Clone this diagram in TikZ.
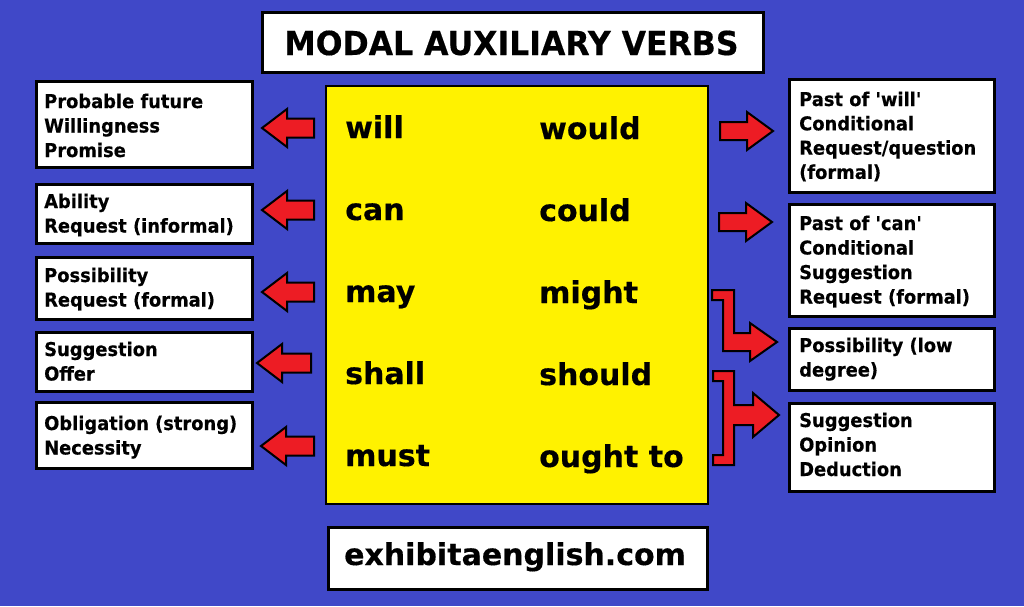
\documentclass[tikz,border=0pt]{standalone}
\usepackage{fontspec}
\newfontfamily\df{DejaVu Sans}[FakeStretch=1.0,FakeBold=0.4]
\newfontfamily\dfs{DejaVu Sans}[FakeStretch=0.94,FakeBold=0.4]
\newfontfamily\dft{DejaVu Sans}[FakeStretch=0.955,FakeBold=0.4]
\definecolor{bg}{RGB}{64,72,200}
\definecolor{ar}{RGB}{237,28,36}
\definecolor{yl}{RGB}{255,242,0}
\tikzset{
  wbox/.style={draw=black, fill=white, line width=2.5pt, anchor=north west, inner sep=0pt},
  ybox/.style={draw=black, fill=yl, line width=2pt, anchor=north west, inner sep=0pt},
  lt/.style={anchor=base west, inner sep=0pt, font=\dfs\bfseries\fontsize{19}{24}\selectfont},
  wd/.style={anchor=base west, inner sep=0pt, font=\df\bfseries\fontsize{30}{36}\selectfont},
  arr/.style={fill=ar, draw=black, line width=2pt, line join=miter},
}
\begin{document}
\begin{tikzpicture}[x=1pt,y=-1pt]
\fill[bg] (0,0) rectangle (1024,606);
\useasboundingbox (0,0) rectangle (1024,606);
% title
\node[wbox, minimum width=501pt, minimum height=60pt] (T) at (261,11) {};
\node[anchor=base, inner sep=0pt, font=\dft\bfseries\fontsize{33}{40}\selectfont] (Tt) at (511.5,55) {MODAL AUXILIARY VERBS};
% yellow box
\node[ybox, minimum width=382pt, minimum height=418pt] (Y) at (325,85) {};
\foreach \w [count=\i from 0] in {will,can,may,shall,must}
  \node[wd] (W\i) at (345,138+82*\i) {\w};
\foreach \w [count=\i from 0] in {would,could,might,should,ought to}
  \node[wd] (V\i) at (539,139+82*\i) {\w};
% bottom
\node[wbox, minimum width=379pt, minimum height=62pt] (B) at (327,526) {};
\node[anchor=base, inner sep=0pt, font=\df\bfseries\fontsize{30}{36}\selectfont] (Bt) at (515,565) {exhibitaenglish.com};
% left boxes
\node[wbox, minimum width=216pt, minimum height=86pt] (L1) at (35,80) {};
\node[wbox, minimum width=216pt, minimum height=59pt] (L2) at (35,183) {};
\node[wbox, minimum width=216pt, minimum height=62pt] (L3) at (35,256) {};
\node[wbox, minimum width=216pt, minimum height=59pt] (L4) at (35,331) {};
\node[wbox, minimum width=216pt, minimum height=66pt] (L5) at (35,401) {};
\foreach \t [count=\i from 0] in {Probable future,Willingness,Promise}
  \node[lt] (L1-\i) at (44,108+24.5*\i) {\t};
\foreach \t [count=\i from 0] in {Ability,Request (informal)}
  \node[lt] (L2-\i) at (44,208+24.5*\i) {\t};
\foreach \t [count=\i from 0] in {Possibility,Request (formal)}
  \node[lt] (L3-\i) at (44,282+24.5*\i) {\t};
\foreach \t [count=\i from 0] in {Suggestion,Offer}
  \node[lt] (L4-\i) at (44,356+24.5*\i) {\t};
\foreach \t [count=\i from 0] in {Obligation (strong),Necessity}
  \node[lt] (L5-\i) at (44,430+24.5*\i) {\t};
% right boxes
\node[wbox, minimum width=205pt, minimum height=113pt] (R1) at (788,78) {};
\node[wbox, minimum width=205pt, minimum height=112pt] (R2) at (788,203) {};
\node[wbox, minimum width=205pt, minimum height=62pt] (R3) at (788,327) {};
\node[wbox, minimum width=205pt, minimum height=88pt] (R4) at (788,402) {};
\foreach \t [count=\i from 0] in {Past of 'will',Conditional,Request/question,(formal)}
  \node[lt] (R1-\i) at (799,106+24.3*\i) {\t};
\foreach \t [count=\i from 0] in {Past of 'can',Conditional,Suggestion,Request (formal)}
  \node[lt] (R2-\i) at (799,230+24.5*\i) {\t};
\foreach \t [count=\i from 0] in {Possibility (low,degree)}
  \node[lt] (R3-\i) at (799,352+24.5*\i) {\t};
\foreach \t [count=\i from 0] in {Suggestion,Opinion,Deduction}
  \node[lt] (R4-\i) at (799,427+24.5*\i) {\t};
% left arrows
\foreach \y/\tx/\ex in {128/262/314, 210/262/314, 292/262/314, 363/257/311, 446/261/314}
  \draw[arr] (\ex,\y-9.5) -- (\tx+25,\y-9.5) -- (\tx+25,\y-19) -- (\tx,\y) -- (\tx+25,\y+19) -- (\tx+25,\y+9.5) -- (\ex,\y+9.5) -- cycle;
% right arrows
\foreach \y/\tx/\ex in {131/773/720, 222/772/719}
  \draw[arr] (\ex,\y-9) -- (\tx-26,\y-9) -- (\tx-26,\y-19) -- (\tx,\y) -- (\tx-26,\y+19) -- (\tx-26,\y+9) -- (\ex,\y+9) -- cycle;
% bent arrow (might)
\draw[arr] (712,290) -- (734,290) -- (734,333) -- (750,333) -- (750,323) -- (777,342) -- (750,361) -- (750,351) -- (723,351) -- (723,300) -- (712,300) -- cycle;
% bracket arrow (should / ought to)
\draw[arr] (713,371) -- (734,371) -- (734,405) -- (753,405) -- (753,393) -- (779,415) -- (753,437) -- (753,425) -- (734,425) -- (734,465) -- (713,465) -- (713,455) -- (723,455) -- (723,381) -- (713,381) -- cycle;
\end{tikzpicture}
\end{document}
